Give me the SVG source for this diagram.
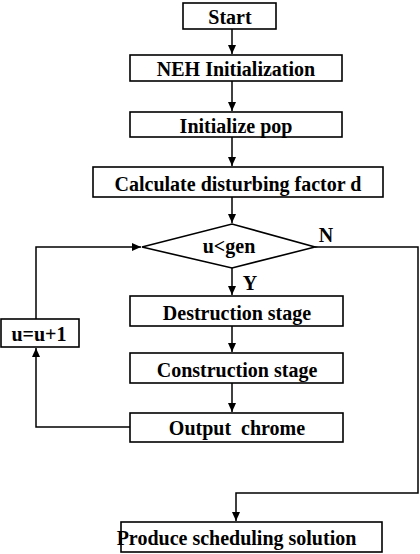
<svg xmlns="http://www.w3.org/2000/svg" width="420" height="554" viewBox="0 0 420 554">
<style>
.box{fill:#fff;stroke:#000;stroke-width:1.6}
.t{font-family:"Liberation Serif","Times New Roman",serif;font-weight:bold;font-size:20px;text-anchor:middle;fill:#000}
.c{fill:none;stroke:#000;stroke-width:1.5}
</style>
<defs>
<marker id="a" markerWidth="10" markerHeight="10" refX="9" refY="5" orient="auto" markerUnits="userSpaceOnUse">
<path d="M0,1 L9,5 L0,9 z" fill="#000"/>
</marker>
</defs>
<rect width="420" height="554" fill="#fff"/>
<g id="connectors">
<line class="c" x1="232" y1="29" x2="232" y2="54" marker-end="url(#a)"/>
<line class="c" x1="232" y1="81" x2="232" y2="111" marker-end="url(#a)"/>
<line class="c" x1="232" y1="137" x2="232" y2="166" marker-end="url(#a)"/>
<line class="c" x1="232" y1="197" x2="232" y2="223" marker-end="url(#a)"/>
<line class="c" x1="232" y1="268" x2="232" y2="295" marker-end="url(#a)"/>
<line class="c" x1="232" y1="326" x2="232" y2="352" marker-end="url(#a)"/>
<line class="c" x1="232" y1="383" x2="232" y2="412" marker-end="url(#a)"/>
<polyline class="c" points="130,427 36,427 36,348" marker-end="url(#a)"/>
<polyline class="c" points="36,319 36,247 141,247" marker-end="url(#a)"/>
<polyline class="c" points="315,247 418,247 418,493 236,493 236,521" marker-end="url(#a)"/>
<text class="t" x="326" y="242">N</text>
<text class="t" x="250" y="290">Y</text>
</g>
<g id="start"><rect class="box" x="183" y="3" width="93" height="26"/><text class="t" x="230" y="24">Start</text></g>
<g id="neh"><rect class="box" x="130" y="55" width="212" height="26"/><text class="t" x="236" y="76">NEH Initialization</text></g>
<g id="initpop"><rect class="box" x="130" y="112" width="212" height="25"/><text class="t" x="236" y="133">Initialize pop</text></g>
<g id="calc"><rect class="box" x="93" y="167" width="290" height="30"/><text class="t" x="238" y="191">Calculate disturbing factor d</text></g>
<g id="cond"><polygon class="box" points="142,247 232,224 315,247 232,268"/><text class="t" x="229" y="253">u&lt;gen</text></g>
<g id="destruction"><rect class="box" x="130" y="296" width="213" height="30"/><text class="t" x="237" y="320">Destruction stage</text></g>
<g id="inc"><rect class="box" x="1" y="319" width="78" height="28"/><text class="t" x="39" y="341">u=u+1</text></g>
<g id="construction"><rect class="box" x="130" y="353" width="213" height="30"/><text class="t" x="237" y="377">Construction stage</text></g>
<g id="output"><rect class="box" x="130" y="413" width="213" height="29"/><text class="t" x="237" y="435" xml:space="preserve">Output  chrome</text></g>
<g id="produce"><rect class="box" x="121" y="522" width="261" height="30"/><text class="t" x="236.5" y="545">Produce scheduling solution</text></g>
</svg>
